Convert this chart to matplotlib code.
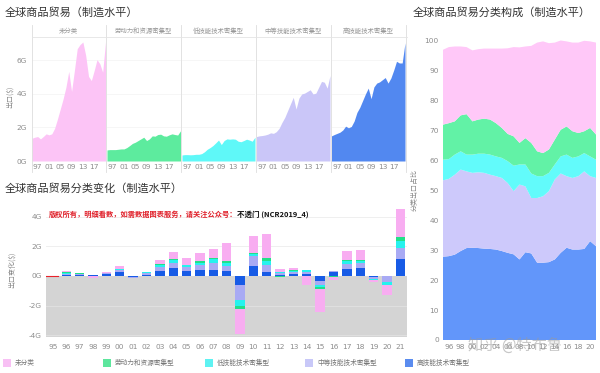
import matplotlib
matplotlib.use("Agg")
import matplotlib.pyplot as plt
from matplotlib.lines import Line2D
from matplotlib.patches import Rectangle
import numpy as np

plt.rcParams['font.family'] = ['Noto Sans CJK SC', 'DejaVu Sans']

# ---------------- data ----------------
years = list(range(1995, 2022))
categories = ['未分类', '劳动力和资源密集型', '低技能技术密集型', '中等技能技术密集型', '高技能技术密集型']

# exports by category (G$)
exp_unclassified = [1.36, 1.42, 1.46, 1.32, 1.46, 1.62, 1.56, 1.62, 1.95, 2.5, 3.1, 3.7, 4.4, 5.35, 4.15,
                    5.4, 6.7, 6.95, 7.1, 6.3, 5.05, 4.8, 5.4, 6.05, 5.8, 5.3, 7.1]
exp_labour = [0.66, 0.68, 0.68, 0.68, 0.70, 0.72, 0.72, 0.80, 0.92, 1.05, 1.12, 1.22, 1.32, 1.42, 1.22,
              1.32, 1.5, 1.48, 1.58, 1.6, 1.5, 1.48, 1.56, 1.62, 1.58, 1.55, 1.8]
exp_low = [0.36, 0.38, 0.38, 0.37, 0.38, 0.40, 0.40, 0.44, 0.55, 0.70, 0.80, 0.92, 1.08, 1.25, 0.98,
           1.22, 1.32, 1.30, 1.32, 1.30, 1.18, 1.15, 1.22, 1.30, 1.25, 1.18, 1.42]
exp_medium = [1.46, 1.50, 1.52, 1.55, 1.60, 1.68, 1.65, 1.75, 1.95, 2.3, 2.6, 3.0, 3.4, 3.8, 3.1,
              3.75, 4.0, 4.05, 4.15, 4.25, 4.0, 4.05, 4.4, 4.75, 4.7, 4.35, 5.1]
exp_high = [1.50, 1.58, 1.65, 1.72, 1.85, 2.08, 1.98, 2.06, 2.38, 2.9, 3.2, 3.6, 4.0, 4.35, 3.72,
            4.42, 4.65, 4.72, 4.85, 4.98, 4.65, 4.95, 5.42, 5.95, 5.85, 5.85, 7.05]

# yearly change by category (G$)
chg_high = [0, 0.08, 0.07, 0.05, 0.12, 0.24, -0.10, 0.08, 0.33, 0.51, 0.31, 0.40, 0.42, 0.33, -0.64,
            0.69, 0.24, 0.08, 0.13, 0.13, -0.33, 0.29, 0.47, 0.51, -0.10, 0.0, 1.18]
chg_medium = [0, 0.07, 0.05, 0.02, 0.05, 0.15, -0.03, 0.10, 0.25, 0.40, 0.27, 0.36, 0.49, 0.36, -1.00,
              0.67, 0.49, 0.14, 0.11, 0.11, -0.27, 0.02, 0.37, 0.36, -0.10, -0.42, 0.73]
chg_low = [0, 0.06, 0.04, 0.01, 0.04, 0.06, 0.0, 0.07, 0.15, 0.16, 0.13, 0.15, 0.22, 0.22, -0.40,
           0.14, 0.29, 0.07, 0.09, 0.14, -0.16, 0.03, 0.14, 0.13, -0.05, -0.16, 0.45]
chg_labour = [0, 0.03, 0.02, 0.0, 0.01, 0.04, 0.0, 0.03, 0.07, 0.11, 0.04, 0.07, 0.11, 0.11, -0.20,
              0.08, 0.22, -0.06, 0.07, 0.04, -0.11, -0.05, 0.09, 0.07, -0.03, -0.06, 0.26]
chg_unclassified = [0, 0.08, 0.03, -0.15, 0.02, 0.16, 0.0, 0.02, 0.27, 0.46, 0.49, 0.60, 0.56, 1.22, -1.66,
                    1.11, 1.63, 0.18, 0.13, -0.60, -1.55, -0.25, 0.62, 0.66, -0.10, -0.67, 1.89]

# share of exports (%)
shr_high = [27.8, 28.0, 28.5, 29.7, 30.7, 30.8, 30.7, 30.5, 30.4, 30.2, 29.7, 29.1, 28.6, 26.9, 29.3,
            28.9, 25.8, 25.8, 26.0, 26.9, 29.1, 30.8, 30.2, 30.2, 30.4, 33.0, 31.3]
shr_medium = [25.5, 25.8, 26.7, 27.2, 25.6, 25.0, 25.3, 25.3, 24.8, 24.5, 24.4, 23.3, 21.1, 25.0, 22.0,
              18.5, 21.6, 22.2, 23.7, 26.7, 26.5, 23.9, 23.9, 24.5, 25.9, 21.7, 22.8]
shr_low = [6.9, 6.6, 6.7, 6.1, 5.6, 6.1, 6.2, 6.4, 6.7, 6.6, 6.7, 7.3, 8.5, 6.7, 7.3,
           8.2, 7.3, 6.7, 6.1, 5.0, 5.7, 7.2, 6.7, 6.6, 6.1, 6.6, 6.1]
shr_labour = [11.7, 12.0, 11.1, 12.0, 13.5, 11.1, 11.4, 11.7, 11.7, 11.1, 10.0, 9.1, 9.8, 7.2, 8.8,
              10.2, 8.3, 7.7, 7.8, 8.3, 8.9, 9.4, 8.9, 7.8, 7.3, 9.5, 8.4]
shr_unclassified = [25.0, 25.4, 25.0, 23.0, 22.4, 23.7, 23.5, 23.4, 23.7, 24.9, 26.5, 28.6, 29.8, 31.9, 30.6,
                    32.4, 36.3, 37.3, 35.5, 32.4, 29.8, 28.4, 29.6, 30.2, 30.2, 28.9, 30.7]

# ---------------- styles ----------------
W, H = 600, 373
area_cols = ['#fcc4f6', '#5deb9e', '#5ff8f8', '#cac6f8', '#5288f0']
share_cols = ['#ffc8f8', '#62f2a6', '#62fbfb', '#cdc9fb', '#6296fa']
bar_cols = ['#f8adf1', '#22e088', '#26f2ee', '#a8aaf4', '#175be6']
legend_cols = ['#f8c0f4', '#5de69d', '#5ef2f2', '#c8c8f8', '#5a8cef']
tick_col = '#8c8c8c'
title_col = '#333333'

fig = plt.figure(figsize=(6.0, 3.73), dpi=100)


def ax_px(l, t, r, b):
    return fig.add_axes([l / W, 1 - b / H, (r - l) / W, (b - t) / H])


def line_px(x0, y0, x1, y1, color='#dddddd', lw=0.6):
    fig.add_artist(Line2D([x0 / W, x1 / W], [1 - y0 / H, 1 - y1 / H],
                          transform=fig.transFigure, color=color, lw=lw))


def text_px(x, y, s, **kw):
    fig.text(x / W, 1 - y / H, s, **kw)


# ---------------- top-left small multiples ----------------
text_px(5, 12, '全球商品贸易（制造水平）', fontsize=8, color=title_col, va='center', ha='left')

panel_series = [exp_unclassified, exp_labour, exp_low, exp_medium, exp_high]
lefts = [32, 107, 182, 256.5, 331.5]
rights = [105.5, 180.5, 255, 330, 405]
for k in range(5):
    ax = ax_px(lefts[k], 37, rights[k], 161)
    ax.fill_between(years, 0, panel_series[k], color=area_cols[k], lw=0)
    ax.set_xlim(1995, 2021)
    ax.set_ylim(0, 7.4)
    for g in [2, 4, 6]:
        ax.axhline(g, color='#f3f3f3', lw=0.5, zorder=0)
    for s in ax.spines.values():
        s.set_visible(False)
    ax.set_xticks([1997, 2001, 2005, 2009, 2013, 2017])
    ax.set_xticklabels(['97', '01', '05', '09', '13', '17'], fontsize=5.3, color=tick_col,
                       family='DejaVu Sans')
    ax.tick_params(axis='x', length=0, pad=2)
    if k == 0:
        ax.set_yticks([0, 2, 4, 6])
        ax.set_yticklabels(['0G', '2G', '4G', '6G'], fontsize=5.3, color=tick_col, family='DejaVu Sans')
        ax.tick_params(axis='y', length=0, pad=4)
    else:
        ax.set_yticks([])
    text_px((lefts[k] + rights[k]) / 2, 31, categories[k], fontsize=4.6, color='#999999',
            ha='center', va='center')

for x in [31.5, 106.3, 181.3, 255.8, 330.8, 405.8]:
    line_px(x, 25, x, 172)
line_px(31.5, 37, 407, 37, color='#e4e4e4')
text_px(10, 97, '出口($)', fontsize=5, color='#888888', rotation=90, ha='center', va='center')

# ---------------- bottom-left bar chart of changes ----------------
text_px(5, 188, '全球商品贸易分类变化（制造水平）', fontsize=8, color=title_col, va='center', ha='left')

axb = ax_px(46, 205, 407, 337)
xi = np.arange(len(years))
axb.set_xlim(-0.52, 26.5)
axb.set_ylim(-4.13, 4.8)
axb.axhspan(-4.13, 0, color='#d4d4d4', lw=0, zorder=0)
for g in [2, 4]:
    axb.axhline(g, color='#ececec', lw=0.6, zorder=0.5)
for g in [-2, -4]:
    axb.axhline(g, color='#e2e2e2', lw=0.6, zorder=0.5)
changes = [chg_high, chg_medium, chg_low, chg_labour, chg_unclassified]
cols_order = [bar_cols[4], bar_cols[3], bar_cols[2], bar_cols[1], bar_cols[0]]
pos_b = np.zeros(len(years))
neg_b = np.zeros(len(years))
for vals, c in zip(changes, cols_order):
    v = np.array(vals, dtype=float)
    pos = np.where(v > 0, v, 0)
    neg = np.where(v < 0, v, 0)
    axb.bar(xi, pos, bottom=pos_b, width=0.7, color=c, lw=0, zorder=2)
    axb.bar(xi, neg, bottom=neg_b, width=0.7, color=c, lw=0, zorder=2)
    pos_b += pos
    neg_b += neg
axb.plot([-0.52, 0.35], [0, 0], color='#e8222a', lw=0.8, zorder=3)
for s in axb.spines.values():
    s.set_visible(False)
axb.set_xticks(xi)
axb.set_xticklabels([str(y)[2:] for y in years], fontsize=5.3, color=tick_col, family='DejaVu Sans')
axb.set_yticks([-4, -2, 0, 2, 4])
axb.set_yticklabels(['-4G', '-2G', '0G', '2G', '4G'], fontsize=5.3, color=tick_col, family='DejaVu Sans')
axb.tick_params(length=0, pad=3)
axb.tick_params(axis='x', pad=5)
text_px(12, 270, '出口变化($)', fontsize=5, color='#888888', rotation=90, ha='center', va='center')

t1 = axb.text(0.008, 0.93, '版权所有，明细看数，如需数据图表服务，请关注公众号：', transform=axb.transAxes,
              fontsize=5.2, color='#e0202a', fontweight='bold', ha='left', va='center')
fig.canvas.draw()
bb = t1.get_window_extent()
fig.text(bb.x1 / fig.dpi / 6.0, (bb.y0 + bb.y1) / 2 / fig.dpi / 3.73, '不透门 (NCR2019_4)',
         fontsize=5.4, color='#111111', fontweight='bold', ha='left', va='center')

# ---------------- right 100% stacked area ----------------
text_px(413, 12, '全球商品贸易分类构成（制造水平）', fontsize=8, color=title_col, va='center', ha='left')
axr = ax_px(443, 30, 596, 340)
shares = [shr_high, shr_medium, shr_low, shr_labour, shr_unclassified]
scol = [share_cols[4], share_cols[3], share_cols[2], share_cols[1], share_cols[0]]
axr.stackplot(years, *shares, colors=scol, lw=0)
axr.set_xlim(1995, 2021)
axr.set_ylim(0, 103.5)
for s in axr.spines.values():
    s.set_visible(False)
axr.set_yticks(range(0, 101, 10))
axr.set_yticklabels([str(v) for v in range(0, 101, 10)], fontsize=5.3, color=tick_col, family='DejaVu Sans')
axr.set_xticks(range(1996, 2021, 2))
axr.set_xticklabels([str(y)[2:] for y in range(1996, 2021, 2)], fontsize=5.3, color=tick_col,
                    family='DejaVu Sans')
axr.tick_params(length=0, pad=3)
text_px(415, 190, '分类出口占比', fontsize=5, color='#888888', rotation=90, ha='center', va='center')

# watermark
text_px(515, 345, '知乎 @特布鲁', fontsize=11, color='#9a9a9a', alpha=0.55, ha='center', va='center')

# ---------------- legend ----------------
leg_x = [3, 103, 205, 305, 405]
for k in range(5):
    fig.add_artist(Rectangle((leg_x[k] / W, 1 - 366.5 / H), 8 / W, 8 / H, transform=fig.transFigure,
                             color=legend_cols[k], lw=0))
    text_px(leg_x[k] + 12, 362.5, categories[k], fontsize=4.8, color='#777777', ha='left', va='center')

fig.savefig('out.png', dpi=100)
